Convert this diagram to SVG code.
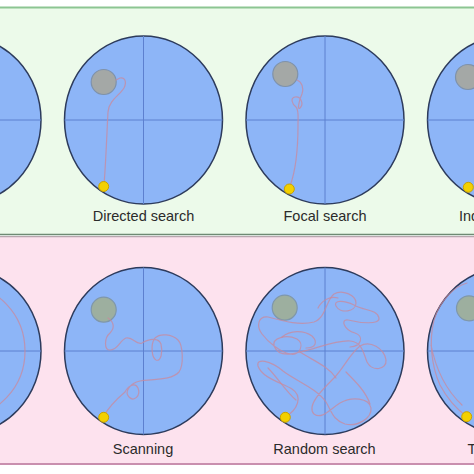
<svg xmlns="http://www.w3.org/2000/svg" width="474" height="474" viewBox="0 0 474 474">
<style>
.pool{fill:#8db5f7;stroke:#2d3b5c;stroke-width:1.5}
.axis{stroke:#5d80cf;stroke-width:1;fill:none}
.goalT{fill:#a4a8a6;stroke:#7f92aa;stroke-width:1.2}
.goalB{fill:#9daf9f;stroke:#7f97aa;stroke-width:1.2}
.start{fill:#f3d000;stroke:#c9a200;stroke-width:1}
.track{fill:none;stroke:#c98a9c;stroke-width:1.2;stroke-linejoin:round;stroke-linecap:round;opacity:0.75}
.lbl{font-family:"Liberation Sans",Arial,sans-serif;font-size:14.5px;fill:#2b2b2b;text-anchor:middle}
</style>
<rect x="0" y="0" width="474" height="474" fill="#ffffff"/>
<g id="panel-top">
<rect x="0" y="7" width="474" height="228" fill="#ecfaea"/>
<line x1="0" y1="7.5" x2="474" y2="7.5" stroke="#8cc592" stroke-width="2"/>
<line x1="0" y1="234.5" x2="474" y2="234.5" stroke="#6e8a73" stroke-width="1.6"/>
</g>
<g id="panel-bottom">
<rect x="0" y="236" width="474" height="228" fill="#fde2ee"/>
<line x1="0" y1="236.6" x2="474" y2="236.6" stroke="#b7a6ae" stroke-width="1.2"/>
<line x1="0" y1="464" x2="474" y2="464" stroke="#c98fae" stroke-width="2"/>
</g>

<g id="trial-top-1">
<ellipse class="pool" cx="-38" cy="120" rx="79" ry="84"/>
<line class="axis" x1="-117" y1="120" x2="41" y2="120"/>
</g>

<g id="directed-search">
<ellipse class="pool" cx="143.5" cy="120" rx="79" ry="84"/>
<line class="axis" x1="64.5" y1="120" x2="222.5" y2="120"/>
<line class="axis" x1="143.5" y1="36" x2="143.5" y2="204"/>
<circle class="goalT" cx="103.7" cy="82" r="12.5"/>
<path class="track" d="M104 185 C106 160,107 130,108 112 C109 100,120 95,124 88 C127 82,125 77,120 78 L116 80"/>
<circle class="start" cx="103.7" cy="186.5" r="5"/>
<text class="lbl" x="143.5" y="221">Directed search</text>
</g>

<g id="focal-search">
<ellipse class="pool" cx="325" cy="120" rx="79" ry="84"/>
<line class="axis" x1="246" y1="120" x2="404" y2="120"/>
<line class="axis" x1="325" y1="36" x2="325" y2="204"/>
<circle class="goalT" cx="285.3" cy="74" r="12.5"/>
<path class="track" d="M290 186 C296 170,298 150,298 125 C298 116,299 110,296 107 C292 104,290 98,295 97 C301 96,304 104,300 108 C297 111,299 100,302 94 C304 88,302 82,297 80"/>
<circle class="start" cx="289.3" cy="189" r="5"/>
<text class="lbl" x="325" y="221">Focal search</text>
</g>

<g id="indirect-search">
<ellipse class="pool" cx="506.5" cy="120" rx="79" ry="84"/>
<line class="axis" x1="427.5" y1="120" x2="585.5" y2="120"/>
<circle class="goalT" cx="468" cy="77" r="12.5"/>
<circle class="start" cx="468.3" cy="187.3" r="5"/>
<text class="lbl" x="506.5" y="221">Indirect search</text>
</g>

<g id="chaining">
<ellipse class="pool" cx="-38" cy="351" rx="79" ry="83.5"/>
<line class="axis" x1="-117" y1="351" x2="41" y2="351"/>
<ellipse class="track" cx="-38" cy="351" rx="63" ry="66"/>
</g>

<g id="scanning">
<ellipse class="pool" cx="143.5" cy="351" rx="79" ry="83.5"/>
<line class="axis" x1="64.5" y1="351" x2="222.5" y2="351"/>
<line class="axis" x1="143.5" y1="267.5" x2="143.5" y2="434.5"/>
<circle class="goalB" cx="103.7" cy="309.7" r="12.5"/>
<path class="track" d="M104 416 C108 408,118 398,125 392 C128 386,135 382,138 388 C141 396,134 402,129 397 C124 392,130 383,140 381 C155 379,172 380,179 372 C184 365,183 345,178 340 C172 334,160 333,155 338 C150 345,152 358,156 360 C161 362,163 352,161 344 C159 338,150 338,142 343 C136 346,133 336,126 338 C120 340,118 350,110 350 C104 350,104 338,110 333 C115 328,114 322,108 318"/>
<circle class="start" cx="103.7" cy="417.3" r="5"/>
<text class="lbl" x="143" y="453.5">Scanning</text>
</g>

<g id="random-search">
<ellipse class="pool" cx="325" cy="351" rx="79" ry="83.5"/>
<line class="axis" x1="246" y1="351" x2="404" y2="351"/>
<line class="axis" x1="325" y1="267.5" x2="325" y2="434.5"/>
<circle class="goalB" cx="284.7" cy="307.7" r="12.5"/>
<path class="track" d="M285 417 C298 410,303 396,292 389 C282 383,262 378,258 366 C256 358,270 360,283 371 C296 381,316 388,326 402 C332 412,333 420,345 424 C358 427,372 418,371 408 C369 398,352 396,340 403 C330 409,322 420,314 414 C306 406,322 390,333 379 C344 368,348 356,360 346 C370 340,384 348,386 360 C387 370,372 372,367 362 C363 352,362 342,350 341 C336 340,318 348,300 352 C290 355,278 356,274 346 C272 338,286 334,297 339 C305 344,300 356,290 354 C280 352,268 342,262 334 C256 326,258 316,268 317 C280 320,298 326,314 322 C326 318,326 300,334 294 C342 289,356 295,356 303 C356 312,340 314,336 306 C333 300,344 300,354 305 C364 311,377 309,379 318 C380 325,360 323,348 320 C340 319,344 330,355 333 C364 336,362 346,350 347"/>
<path class="track" d="M300 352 C312 360,328 366,336 378 M268 368 C278 378,286 392,296 400 M346 372 C356 382,366 392,370 404 M282 337 C290 330,304 330,312 336 C318 342,316 348,306 348 M318 308 C322 300,330 296,338 298"/>
<circle class="start" cx="285.3" cy="417.3" r="5"/>
<text class="lbl" x="324.5" y="453.5">Random search</text>
</g>

<g id="thigmotaxis">
<ellipse class="pool" cx="506.5" cy="351" rx="79" ry="83.5"/>
<line class="axis" x1="427.5" y1="351" x2="585.5" y2="351"/>
<circle class="goalB" cx="469" cy="308.3" r="12.5"/>
<path class="track" d="M467 283 C455 286,440 300,434 320 C429 340,431 365,440 385 C448 400,458 410,466 416 M431 345 C436 370,446 390,462 405"/>
<circle class="start" cx="466.7" cy="416.7" r="5"/>
<text class="lbl" x="506.5" y="453.5">Thigmotaxis</text>
</g>
</svg>
